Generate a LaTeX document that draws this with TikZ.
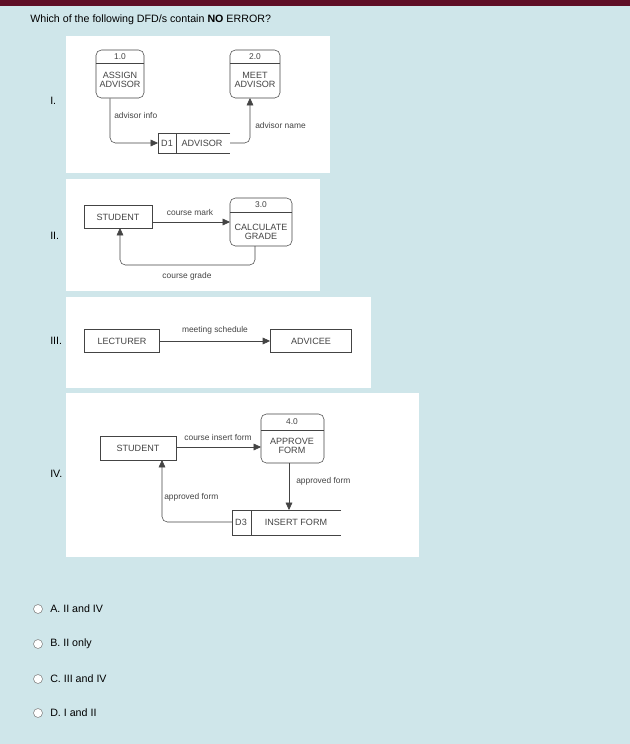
\documentclass[tikz,border=0pt]{standalone}
\usepackage{fontspec}
\setmainfont{Liberation Sans}
\usetikzlibrary{arrows.meta}
\definecolor{bg}{HTML}{CFE6EA}
\definecolor{bar}{HTML}{5E0E26}
\definecolor{ln}{HTML}{444444}
\begin{document}
\begin{tikzpicture}[x=0.75pt,y=-0.75pt,
  lab/.style={font=\fontsize{6.3}{7}\selectfont,text=ln,inner sep=0},
  txt/.style={font=\fontsize{8}{9}\selectfont,inner sep=0,anchor=west},
  ent/.style={draw=ln,fill=white,font=\fontsize{6.8}{7}\selectfont,text=ln,inner sep=0},
  con/.style={draw=ln,-{Triangle[length=5.5pt,width=5pt]},rounded corners=4pt}]
\fill[bg] (0,0) rectangle (630,744);
\fill[bar] (0,0) rectangle (630,6);
\useasboundingbox (0,0) rectangle (630,744);
\node[txt] (q) at (30,20) {Which of the following DFD/s contain \textbf{NO} ERROR?};
\foreach \r/\y in {I./101,II./236,III./341,IV./474} \node[txt] at (50,\y) {\r};
\fill[white] (66,36) rectangle (330,173);
\fill[white] (66,179) rectangle (320,291);
\fill[white] (66,297) rectangle (371,388);
\fill[white] (66,393) rectangle (419,557);
\newcommand{\proc}[6]{%
  \draw[ln,fill=white,rounded corners=4pt] (#2,#3) rectangle (#4,#5);
  \draw[ln] (#2,#6) -- (#4,#6);
  \node[inner sep=0] (#1) at ({(#2+#4)/2},{(#3+#5)/2}) [minimum width={(#4-#2)*0.75pt},minimum height={(#5-#3)*0.75pt}] {};}
% Panel I
\proc{p1}{96}{50}{144}{98}{63}
\node[lab] at (120,57) {1.0};
\node[lab,align=center,font=\fontsize{6.8}{6.5}\selectfont] at (120,80) {ASSIGN\\ADVISOR};
\proc{p2}{230}{50}{280}{98}{63}
\node[lab] at (255,57) {2.0};
\node[lab,align=center,font=\fontsize{6.8}{6.5}\selectfont] at (255,80) {MEET\\ADVISOR};
\fill[white] (158,133) rectangle (230,153);
\draw[ln] (230,133) -- (158,133) -- (158,153) -- (230,153) (176,133) -- (176,153);
\node[lab,font=\fontsize{6.8}{7}\selectfont] at (167,143) {D1};
\node[lab,font=\fontsize{6.8}{7}\selectfont] at (202,143) {ADVISOR};
\coordinate (d1l) at (158,143); \coordinate (d1r) at (230,143);
\draw[con] (p1.south -| 110,0) -- (110,143) -- (d1l);
\draw[con] (d1r) -- (250,143) -- (250,98);
\node[lab,anchor=west] at (114,115) {advisor info};
\node[lab,anchor=west] at (255,125) {advisor name};
% Panel II
\node[ent,minimum width=51pt,minimum height=17pt] (s2) at (118,217) {STUDENT};
\proc{p3}{230}{198}{292}{246}{212}
\node[lab] at (261,205) {3.0};
\node[lab,align=center,font=\fontsize{6.8}{6.5}\selectfont] at (261,232) {CALCULATE\\GRADE};
\draw[con] (152,222) -- (230,222);
\draw[con] (255,246) -- (255,265) -- (120,265) -- (120,228);
\node[lab] at (190,212) {course mark};
\node[lab] at (187,276) {course grade};
% Panel III
\node[ent,minimum width=56pt,minimum height=17pt] (lec) at (122,341) {LECTURER};
\node[ent,minimum width=61pt,minimum height=17pt] (adv) at (311,341) {ADVICEE};
\draw[con] (lec) -- (adv);
\node[lab] at (215,330) {meeting schedule};
% Panel IV
\node[ent,minimum width=57pt,minimum height=18pt] (s4) at (138,448) {STUDENT};
\proc{p4}{261}{414}{324}{463}{430}
\node[lab] at (292,422) {4.0};
\node[lab,align=center,font=\fontsize{6.8}{6.5}\selectfont] at (292,446) {APPROVE\\FORM};
\draw[con] (176,447) -- (261,447);
\node[lab] at (218,437) {course insert form};
\fill[white] (232,510) rectangle (341,535);
\draw[ln] (341,510) -- (232,510) -- (232,535) -- (341,535) (251,510) -- (251,535);
\node[lab,font=\fontsize{6.8}{7}\selectfont] at (241,522) {D3};
\node[lab,font=\fontsize{6.8}{7}\selectfont] at (296,522) {INSERT FORM};
\draw[con] (289,463) -- (289,510);
\draw[con] (232,522) -- (162,522) -- (162,460);
\node[lab,anchor=west] at (296,481) {approved form};
\node[lab,anchor=west] at (164,497) {approved form};
% options
\foreach \t/\y in {A. II and IV/609,B. II only/644,C. III and IV/679,D. I and II/713}{
  \draw[gray,fill=white] (38,\y) circle (4.5);
  \node[txt] at (50,\y) {\t};}
\end{tikzpicture}
\end{document}
